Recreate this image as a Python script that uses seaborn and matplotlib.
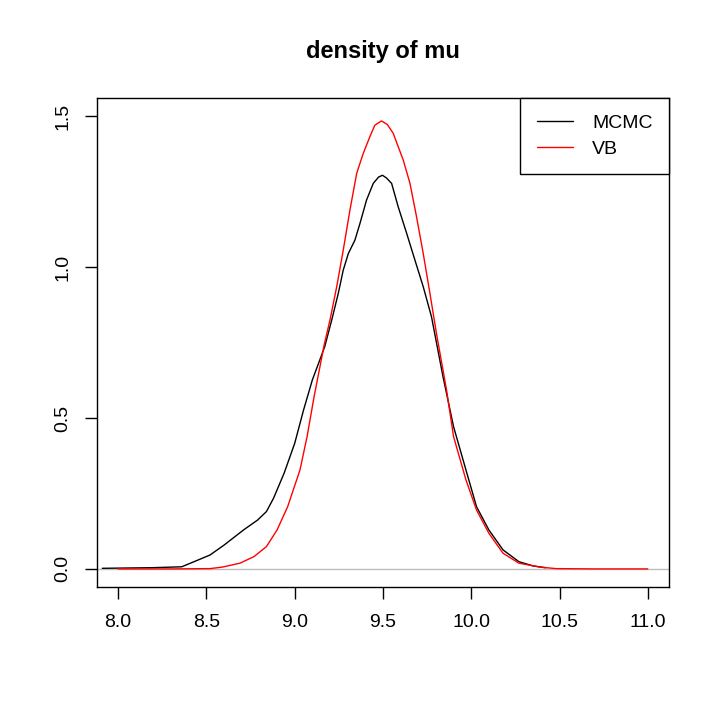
import numpy as np
import pandas as pd
import seaborn as sns
import matplotlib.pyplot as plt

# values
mcmc_x = [7.91, 8.19, 8.36, 8.43, 8.52, 8.60, 8.71, 8.79, 8.84, 8.88, 8.94, 9.00,
          9.05, 9.10, 9.17, 9.21, 9.247, 9.275, 9.304, 9.341, 9.370, 9.407, 9.445,
          9.475, 9.497, 9.52, 9.549, 9.586, 9.634, 9.681, 9.728, 9.775, 9.84, 9.90,
          9.97, 10.03, 10.10, 10.18, 10.27, 10.35, 10.42]
mcmc_y = [0.002, 0.004, 0.007, 0.024, 0.046, 0.079, 0.129, 0.162, 0.190, 0.234,
          0.317, 0.416, 0.526, 0.626, 0.736, 0.825, 0.913, 0.990, 1.045, 1.089,
          1.145, 1.222, 1.277, 1.298, 1.304, 1.295, 1.277, 1.200, 1.112, 1.023,
          0.935, 0.835, 0.637, 0.471, 0.328, 0.206, 0.129, 0.063, 0.024, 0.010,
          0.004]

vb_x = [8.00, 8.30, 8.52, 8.59, 8.69, 8.77, 8.84, 8.90, 8.96, 9.03, 9.07, 9.11,
        9.167, 9.200, 9.238, 9.275, 9.313, 9.351, 9.388, 9.426, 9.454, 9.492,
        9.525, 9.558, 9.615, 9.653, 9.690, 9.728, 9.766, 9.803, 9.86, 9.90, 9.97,
        10.03, 10.10, 10.18, 10.27, 10.39, 10.48, 10.70, 11.00]
vb_y = [0.0, 0.0, 0.001, 0.006, 0.019, 0.041, 0.074, 0.129, 0.206, 0.328, 0.438,
        0.571, 0.742, 0.825, 0.935, 1.056, 1.189, 1.310, 1.376, 1.432, 1.470,
        1.484, 1.472, 1.443, 1.354, 1.277, 1.167, 1.045, 0.913, 0.780, 0.593,
        0.438, 0.295, 0.195, 0.118, 0.052, 0.019, 0.006, 0.001, 0.0, 0.0]

xticks = [8.0, 8.5, 9.0, 9.5, 10.0, 10.5, 11.0]
yticks = [0.0, 0.5, 1.0, 1.5]

sns.set_style("ticks")
plt.rcParams['font.family'] = ['Liberation Sans', 'DejaVu Sans']
plt.rcParams['text.color'] = 'black'
plt.rcParams['xtick.color'] = 'black'
plt.rcParams['ytick.color'] = 'black'

fig = plt.figure(figsize=(7.2, 7.1), dpi=100)
ax = fig.add_axes([0.1347, 0.1732, 0.7944, 0.6888])

ax.axhline(0, color='#bebebe', lw=1, zorder=1)
sns.lineplot(x=mcmc_x, y=mcmc_y, color='black', lw=1, ax=ax, label='MCMC', sort=False)
sns.lineplot(x=vb_x, y=vb_y, color='red', lw=1, ax=ax, label='VB', sort=False)

ax.set_xlim(7.88, 11.12)
ax.set_ylim(-0.06, 1.56)
ax.set_xticks(xticks)
ax.set_xticklabels([f"{v:.1f}" for v in xticks])
ax.set_yticks(yticks)
ax.set_yticklabels([f"{v:.1f}" for v in yticks], rotation=90, va='center')
ax.tick_params(direction='out', length=8.5, width=1, color='black', labelcolor='black',
               labelsize=14)
ax.tick_params(axis='x', pad=11)
ax.tick_params(axis='y', pad=10)
for s in ax.spines.values():
    s.set_visible(True)
    s.set_color('black')
    s.set_linewidth(1)
ax.set_title("density of mu", fontsize=17, fontweight='bold', pad=29, color='black')

leg = ax.legend(loc='upper right', borderaxespad=0, fontsize=14, fancybox=False,
                edgecolor='black', handlelength=1.9, handletextpad=0.95,
                borderpad=0.85, labelspacing=0.4)
leg.get_frame().set_linewidth(1)
leg.get_frame().set_alpha(1)
for t in leg.get_texts():
    t.set_color('black')

fig.savefig("out.png", dpi=100)
